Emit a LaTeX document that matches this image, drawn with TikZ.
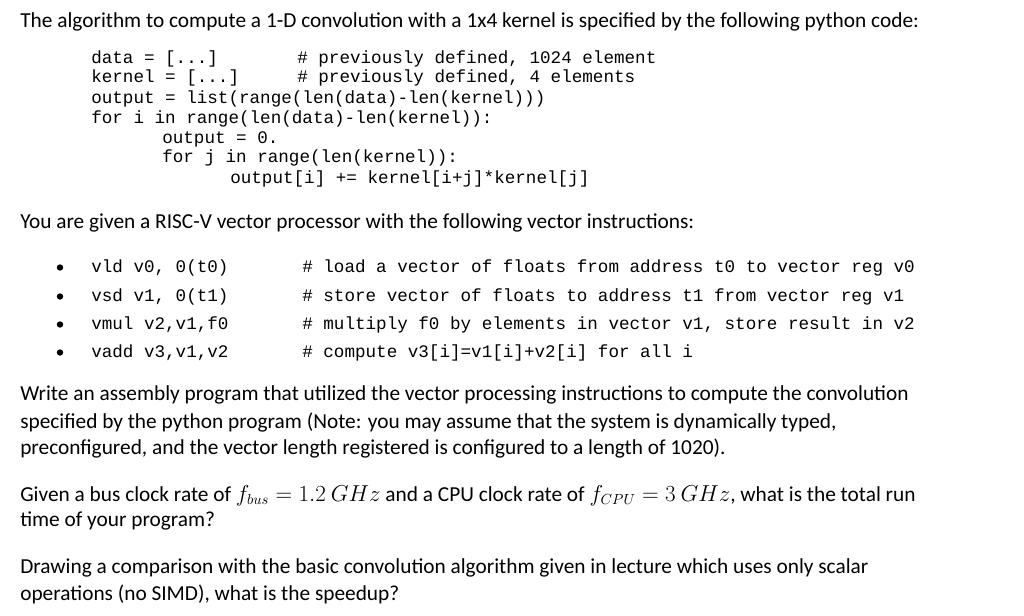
\documentclass[tikz,border=0pt]{standalone}
\usepackage{fontspec}
\setmainfont{Carlito}
\setmonofont{Liberation Mono}
\begin{document}
\begin{tikzpicture}[x=0.75pt,y=-0.75pt,
  txt/.style={anchor=base west,inner sep=0pt,font=\fontsize{16}{18}\selectfont},
  cd/.style={anchor=base west,inner sep=0pt,font=\fontsize{13.2}{15}\ttfamily}]
\useasboundingbox (0,0) rectangle (1024,615);
\node[txt] (t1) at (20,27) {The algorithm to compute a 1-D convolution with a 1x4 kernel is specified by the following python code:};
\node[cd] (c1) at (91,63) {data = [...]};
\node[cd] (c1b) at (297,63) {\# previously defined, 1024 element};
\node[cd] (c2) at (91,82) {kernel = [...]};
\node[cd] (c2b) at (297,82) {\# previously defined, 4 elements};
\node[cd] (c3) at (91,103) {output = list(range(len(data)-len(kernel)))};
\node[cd] (c4) at (91,123) {for i in range(len(data)-len(kernel)):};
\node[cd] (c5) at (162,143) {output = 0.};
\node[cd] (c6) at (162,162) {for j in range(len(kernel)):};
\node[cd] (c7) at (230,183) {output[i] += kernel[i+j]*kernel[j]};
\node[txt] (t2) at (20,228) {You are given a RISC-V vector processor with the following vector instructions:};
\foreach \y/\a/\b [count=\k] in {272/vld v0{,} 0(t0)/\# load a vector of floats from address t0 to vector reg v0,
  301/vsd v1{,} 0(t1)/\# store vector of floats to address t1 from vector reg v1,
  329/vmul v2{,}v1{,}f0/\# multiply f0 by elements in vector v1{,} store result in v2,
  357/vadd v3{,}v1{,}v2/\# compute v3[i]=v1[i]+v2[i] for all i}{
  \fill (60,\y-4.5) circle (3.2) coordinate (b\k);
  \node[cd] (i\k) at (91,\y) {\a};
  \node[cd] (j\k) at (302,\y) {\b};
}
\node[txt] (p1) at (20,400) {Write an assembly program that utilized the vector processing instructions to compute the convolution};
\node[txt] (p2) at (20,428) {specified by the python program (Note: you may assume that the system is dynamically typed,};
\node[txt] (p3) at (20,454) {preconfigured, and the vector length registered is configured to a length of 1020).};
\node[txt] (p4) at (20,501) {Given a bus clock rate of $f_{bus}=1.2\ GHz$ and a CPU clock rate of $f_{CPU}=3\ GHz$, what is the total run};
\node[txt] (p5) at (20,526) {time of your program?};
\node[txt] (p6) at (20,573) {Drawing a comparison with the basic convolution algorithm given in lecture which uses only scalar};
\node[txt] (p7) at (20,600) {operations (no SIMD), what is the speedup?};
\end{tikzpicture}
\end{document}
